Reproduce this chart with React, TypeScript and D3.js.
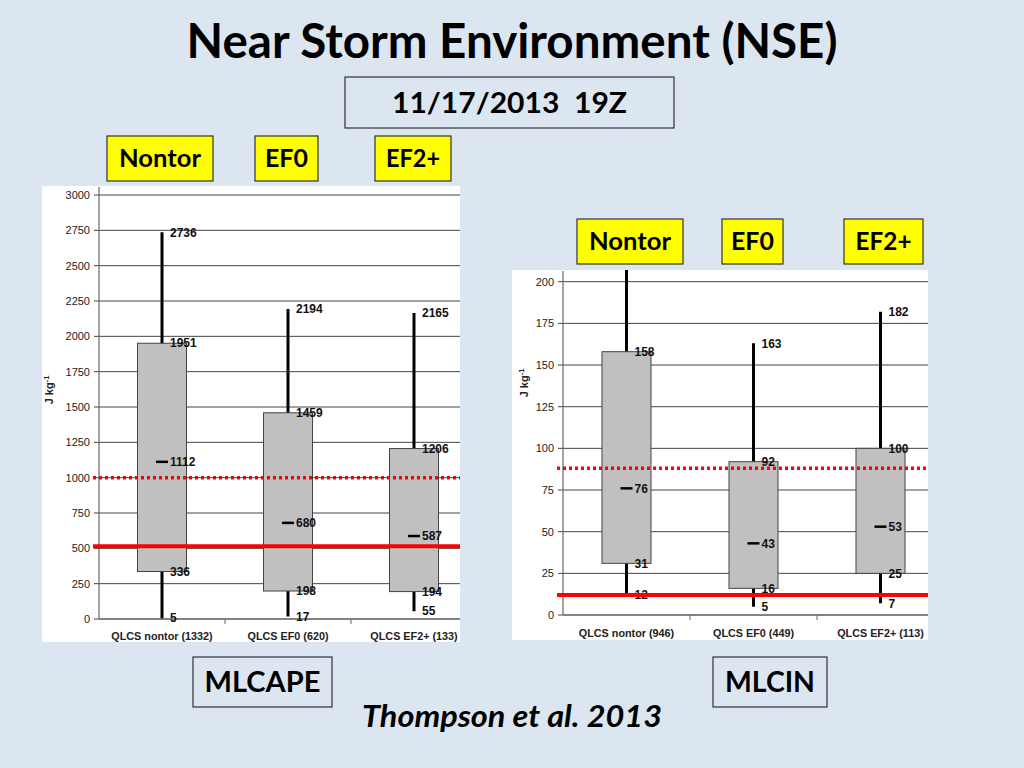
import * as d3 from 'd3';

// MLCAPE (left panel)
const capeCategories = ['QLCS nontor (1332)', 'QLCS EF0 (620)', 'QLCS EF2+ (133)'];
const capeMin = [5, 17, 55];
const capeQ1 = [336, 198, 194];
const capeMedian = [1112, 680, 587];
const capeQ3 = [1951, 1459, 1206];
const capeMax = [2736, 2194, 2165];
const capeTicks = [0, 250, 500, 750, 1000, 1250, 1500, 1750, 2000, 2250, 2500, 2750, 3000];
const capeSolid = 515;
const capeDashed = 1000;

// MLCIN (right panel)
const cinCategories = ['QLCS nontor (946)', 'QLCS EF0 (449)', 'QLCS EF2+ (113)'];
const cinMin = [12, 5, 7];
const cinQ1 = [31, 16, 25];
const cinMedian = [76, 43, 53];
const cinQ3 = [158, 92, 100];
const cinMax = [230, 163, 182];
const cinTicks = [0, 25, 50, 75, 100, 125, 150, 175, 200];
const cinSolid = 12;
const cinDashed = 88;

const groupLabels = ['Nontor', 'EF0', 'EF2+'];

const BG = '#dce6f1';
const CHART_FONT = '"Liberation Sans", Arial, sans-serif';
const SLIDE_FONT = 'Lato, "Open Sans", sans-serif';

type Panel = { x: number; y: number; w: number; h: number };

type BoxChartProps = {
  id: string;
  panel: Panel;
  xRange: [number, number];
  yRange: [number, number];
  domain: [number, number];
  ticks: number[];
  categories: string[];
  mins: number[];
  q1s: number[];
  medians: number[];
  q3s: number[];
  maxs: number[];
  solid: number;
  dashed: number;
  titlePos: [number, number];
  catY: number;
};

const BoxChart = (p: BoxChartProps) => {
  const x = d3.scaleBand<string>().domain(p.categories).range(p.xRange);
  const y = d3.scaleLinear().domain(p.domain).range(p.yRange);
  const x0 = p.xRange[0];
  const x1 = p.xRange[1];
  const yBottom = y(p.domain[0]);
  const right = p.panel.x + p.panel.w;
  const boxW = 49;
  const clipId = `clip-${p.id}`;

  return (
    <g fontFamily={CHART_FONT}>
      <defs>
        <clipPath id={clipId}>
          <rect x={p.panel.x} y={p.panel.y} width={p.panel.w} height={p.panel.h} />
        </clipPath>
      </defs>
      <rect x={p.panel.x} y={p.panel.y} width={p.panel.w} height={p.panel.h} fill="#ffffff" />
      <g clipPath={`url(#${clipId})`}>
        {/* gridlines and y ticks */}
        {p.ticks.map((t) => (
          <g key={t}>
            <line x1={x0 - 5} x2={x1} y1={y(t)} y2={y(t)} stroke="#444" strokeWidth={1} />
            <text x={x0 - 9} y={y(t)} dy="0.35em" textAnchor="end" fontSize={11} fill="#222">
              {t}
            </text>
          </g>
        ))}
        {/* axes */}
        <line x1={x0} x2={x0} y1={p.panel.y + 1} y2={yBottom} stroke="#666" strokeWidth={1.2} />
        <line x1={x0} x2={x1} y1={yBottom} y2={yBottom} stroke="#666" strokeWidth={1.2} />
        {p.categories.map((c, i) =>
          i === 0 ? null : (
            <line key={c} x1={x(c)!} x2={x(c)!} y1={yBottom} y2={yBottom + 5} stroke="#666" />
          ),
        )}

        {/* boxes */}
        {p.categories.map((c, i) => {
          const cx = x(c)! + x.bandwidth() / 2;
          const inView = (v: number) => v <= p.domain[1];
          return (
            <g key={c}>
              <line x1={cx} x2={cx} y1={y(p.maxs[i])} y2={y(p.mins[i])} stroke="#000" strokeWidth={3} />
              <rect
                x={cx - boxW / 2}
                y={y(p.q3s[i])}
                width={boxW}
                height={y(p.q1s[i]) - y(p.q3s[i])}
                fill="#c0c0c0"
                stroke="#444"
                strokeWidth={1}
              />
              <line x1={cx - 6} x2={cx + 6} y1={y(p.medians[i])} y2={y(p.medians[i])} stroke="#000" strokeWidth={2.5} />
              {[p.maxs[i], p.q3s[i], p.medians[i], p.q1s[i], p.mins[i]].filter(inView).map((v, k) => (
                <text
                  key={k}
                  x={cx + 8}
                  y={y(v)}
                  dy="0.35em"
                  fontSize={12}
                  fontWeight="bold"
                  fill="#111"
                >
                  {v}
                </text>
              ))}
            </g>
          );
        })}

        {/* threshold lines */}
        <line x1={x0 - 6} x2={right} y1={y(p.dashed)} y2={y(p.dashed)} stroke="#ff0000" strokeWidth={3.5} strokeDasharray="3,3" />
        <line x1={x0 - 6} x2={right} y1={y(p.solid)} y2={y(p.solid)} stroke="#ff0000" strokeWidth={4} />

        {/* category labels */}
        {p.categories.map((c) => (
          <text
            key={c}
            x={x(c)! + x.bandwidth() / 2}
            y={p.catY}
            dy="0.35em"
            textAnchor="middle"
            fontSize={10.8}
            fontWeight="bold"
            fill="#222"
          >
            {c}
          </text>
        ))}

        {/* axis title */}
        <text
          transform={`translate(${p.titlePos[0]},${p.titlePos[1]}) rotate(-90)`}
          textAnchor="middle"
          dy="0.35em"
          fontSize={11}
          fontWeight="bold"
          fill="#222"
        >
          J kg<tspan dy="-4" fontSize={7.5}>-1</tspan>
        </text>
      </g>
    </g>
  );
};

type LabelBox = { x: number; y: number; w: number; h: number; text: string; tl: number };

const TextBox = ({ b, fill, size }: { b: LabelBox; fill: string; size: number }) => (
  <g>
    <rect x={b.x} y={b.y} width={b.w} height={b.h} fill={fill} stroke="#333" strokeWidth={1.2} />
    <text
      x={b.x + b.w / 2}
      y={b.y + b.h / 2}
      dy="0.36em"
      textAnchor="middle"
      fontFamily={SLIDE_FONT}
      fontWeight="bold"
      fontSize={size}
      textLength={b.tl}
      lengthAdjust="spacingAndGlyphs"
      fill="#000"
    >
      {b.text}
    </text>
  </g>
);

const leftGroupBoxes: LabelBox[] = [
  { x: 107, y: 136, w: 106, h: 45, text: groupLabels[0], tl: 82 },
  { x: 255, y: 136, w: 63, h: 45, text: groupLabels[1], tl: 43 },
  { x: 375, y: 136, w: 76, h: 45, text: groupLabels[2], tl: 54 },
];
const rightGroupBoxes: LabelBox[] = [
  { x: 577, y: 219, w: 106, h: 45, text: groupLabels[0], tl: 82 },
  { x: 722, y: 219, w: 61, h: 45, text: groupLabels[1], tl: 43 },
  { x: 844, y: 219, w: 79, h: 45, text: groupLabels[2], tl: 56 },
];

export default function App() {
  return (
    <svg
      width={1024}
      height={768}
      style={{ position: 'absolute', left: 0, top: 0, display: 'block' }}
    >
      <rect width={1024} height={768} fill={BG} />

      <text
        x={512}
        y={58}
        textAnchor="middle"
        fontFamily={SLIDE_FONT}
        fontWeight="bold"
        fontSize={48}
        textLength={651}
        lengthAdjust="spacingAndGlyphs"
        fill="#000"
      >
        Near Storm Environment (NSE)
      </text>

      <TextBox
        b={{ x: 345, y: 77, w: 329, h: 51, text: '11/17/2013\u00a0\u00a019Z', tl: 235 }}
        fill={BG}
        size={28}
      />

      {leftGroupBoxes.map((b) => (
        <TextBox key={b.text} b={b} fill="#ffff00" size={24} />
      ))}
      {rightGroupBoxes.map((b) => (
        <TextBox key={b.text} b={b} fill="#ffff00" size={24} />
      ))}

      <BoxChart
        id="cape"
        panel={{ x: 42, y: 186, w: 418, h: 456 }}
        xRange={[99, 477]}
        yRange={[619, 195]}
        domain={[0, 3000]}
        ticks={capeTicks}
        categories={capeCategories}
        mins={capeMin}
        q1s={capeQ1}
        medians={capeMedian}
        q3s={capeQ3}
        maxs={capeMax}
        solid={capeSolid}
        dashed={capeDashed}
        titlePos={[49, 390]}
        catY={636}
      />

      <BoxChart
        id="cin"
        panel={{ x: 512, y: 270, w: 416, h: 370 }}
        xRange={[563, 944]}
        yRange={[615, 281.7]}
        domain={[0, 200]}
        ticks={cinTicks}
        categories={cinCategories}
        mins={cinMin}
        q1s={cinQ1}
        medians={cinMedian}
        q3s={cinQ3}
        maxs={cinMax}
        solid={cinSolid}
        dashed={cinDashed}
        titlePos={[524, 383]}
        catY={633}
      />

      <TextBox b={{ x: 193, y: 657, w: 139, h: 50, text: 'MLCAPE', tl: 116 }} fill={BG} size={28} />
      <TextBox b={{ x: 713, y: 657, w: 114, h: 50, text: 'MLCIN', tl: 90 }} fill={BG} size={28} />

      <text
        x={512}
        y={727}
        textAnchor="middle"
        fontFamily={SLIDE_FONT}
        fontWeight="bold"
        fontStyle="italic"
        fontSize={31}
        textLength={300}
        lengthAdjust="spacingAndGlyphs"
        fill="#000"
      >
        Thompson et al. 2013
      </text>
    </svg>
  );
}
